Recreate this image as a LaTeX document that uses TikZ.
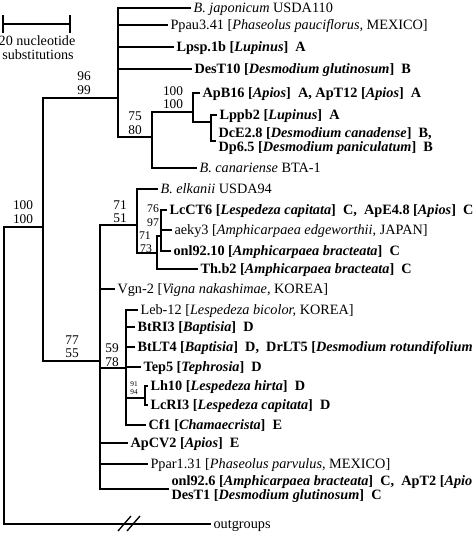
\documentclass[tikz,border=0pt]{standalone}
\usepackage{fontspec}
\setmainfont{Liberation Serif}
\begin{document}
\begin{tikzpicture}[x=0.75pt,y=-0.75pt,line width=1.3pt,line cap=rect,
  leaf/.style={anchor=west,inner xsep=2pt,inner ysep=0pt,text height=7pt,text depth=0pt,font=\fontsize{10.7}{12}\selectfont},
  leafb/.style={leaf,font=\fontsize{10.7}{12}\selectfont\bfseries},
  leaftwo/.style={anchor=west,inner xsep=2pt,inner ysep=0pt,align=left,font=\fontsize{10.7}{10.2}\selectfont\bfseries},
  supA/.style={inner sep=0pt,font=\fontsize{10}{10}\selectfont},
  supB/.style={inner sep=0pt,font=\fontsize{8.8}{9}\selectfont},
  supC/.style={inner sep=0pt,font=\fontsize{5.5}{5.5}\selectfont},
  scaletxt/.style={inner sep=0pt,font=\fontsize{10.6}{11}\selectfont}]
\useasboundingbox (0,0) rectangle (474,533);

% internal nodes
\coordinate (root) at (4,227);
\coordinate (n100) at (43,227);
\coordinate (n96) at (118,98);
\coordinate (n75) at (152,137);
\coordinate (n100b) at (193,112);
\coordinate (nLp) at (211,122);
\coordinate (n77) at (100,361);
\coordinate (n71) at (137,225);
\coordinate (n71b) at (157,253);
\coordinate (n76) at (161,236);
\coordinate (n59) at (126,368);
\coordinate (n91) at (145,398);

% leaves
\node[leaf] (jap) at (190,8) {\textit{B. japonicum} USDA110};
\node[leaf] (ppau) at (167,25) {Ppau3.41 [\textit{Phaseolus pauciflorus,} MEXICO]};
\node[leafb] (lpsp) at (173,47) {Lpsp.1b [\textit{Lupinus}]\ \ A};
\node[leafb] (dest10) at (191,69) {DesT10 [\textit{Desmodium glutinosum}]\ \ B};
\node[leafb] (apb16) at (199,93) {ApB16 [\textit{Apios}]\ \ A, ApT12 [\textit{Apios}]\ \ A};
\node[leafb] (lppb2) at (216,115) {Lppb2 [\textit{Lupinus}]\ \ A};
\node[leaftwo] (dce) at (215,141) {DcE2.8 [\textit{Desmodium canadense}]\ \ B,\\Dp6.5 [\textit{Desmodium paniculatum}]\ \ B};
\node[leaf] (canar) at (196,168) {\textit{B. canariense} BTA-1};
\node[leaf] (elk) at (157,189) {\textit{B. elkanii} USDA94};
\node[leafb] (lcct6) at (166,210) {LcCT6 [\textit{Lespedeza capitata}]\ \ C,\ \ ApE4.8 [\textit{Apios}]\ \ C};
\node[leaf] (aeky3) at (171,230) {aeky3 [\textit{Amphicarpaea edgeworthii}, JAPAN]};
\node[leafb] (onl9210) at (170,251) {onl92.10 [\textit{Amphicarpaea bracteata}]\ \ C};
\node[leafb] (thb2) at (197,269) {Th.b2 [\textit{Amphicarpaea bracteata}]\ \ C};
\node[leaf] (vgn2) at (114,289) {Vgn-2 [\textit{Vigna nakashimae,} KOREA]};
\node[leaf] (leb12) at (137,310) {Leb-12 [\textit{Lespedeza bicolor,} KOREA]};
\node[leafb] (btri3) at (134,327) {BtRI3 [\textit{Baptisia}]\ \ D};
\node[leafb] (btlt4) at (134,347) {BtLT4 [\textit{Baptisia}]\ \ D,\ \ DrLT5 [\textit{Desmodium rotundifolium}};
\node[leafb] (tep5) at (140,367) {Tep5 [\textit{Tephrosia}]\ \ D};
\node[leafb] (lh10) at (147,386) {Lh10 [\textit{Lespedeza hirta}]\ \ D};
\node[leafb] (lcri3) at (147,405) {LcRI3 [\textit{Lespedeza capitata}]\ \ D};
\node[leafb] (cf1) at (145,425) {Cf1 [\textit{Chamaecrista}]\ \ E};
\node[leafb] (apcv2) at (127,443) {ApCV2 [\textit{Apios}]\ \ E};
\node[leaf] (ppar) at (147,464) {Ppar1.31 [\textit{Phaseolus parvulus,} MEXICO]};
\node[leaftwo] (onl926) at (168,489) {onl92.6 [\textit{Amphicarpaea bracteata}]\ \ C,\ \ ApT2 [\textit{Apio}\\DesT1 [\textit{Desmodium glutinosum}]\ \ C};
\node[leaf] (outg) at (210,524) {outgroups};

% branches
\draw (root) -- (n100);
\draw (root) |- (outg.west);
\draw (n100) |- (n96);
\draw (n100) |- (n77);
\draw (n96) |- (jap.west);
\draw (n96) |- (ppau.west);
\draw (n96) |- (lpsp.west);
\draw (n96) |- (dest10.west);
\draw (n96) |- (n75);
\draw (n75) |- (n100b);
\draw (n75) |- (canar.west);
\draw (n100b) |- (apb16.west);
\draw (n100b) |- (nLp);
\draw (nLp) |- (lppb2.west);
\draw (nLp) |- (dce.west);
\draw (n77) |- (n71);
\draw (n77) |- (vgn2.west);
\draw (n77) |- (n59);
\draw (n77) |- (apcv2.west);
\draw (n77) |- (ppar.west);
\draw (n77) |- (onl926.west);
\draw (n71) |- (elk.west);
\draw (n71) |- (n71b);
\draw (n71b) |- (n76);
\draw (n71b) |- (thb2.west);
\draw (n76) |- (lcct6.west);
\draw (n76) |- (aeky3.west);
\draw (n76) |- (onl9210.west);
\draw (n59) |- (leb12.west);
\draw (n59) |- (btri3.west);
\draw (n59) |- (btlt4.west);
\draw (n59) |- (tep5.west);
\draw (n59) |- (n91);
\draw (n59) |- (cf1.west);
\draw (n91) |- (lh10.west);
\draw (n91) |- (lcri3.west);

% break marks on outgroup branch
\draw[line width=1pt,line cap=butt] (118,531) -- (131,516);
\draw[line width=1pt,line cap=butt] (127,531) -- (140,516);

% support values
\node[supA] (s1a) at (23,205) {100};
\node[supA] (s1b) at (23,219) {100};
\node[supA] (s2a) at (84,76) {96};
\node[supA] (s2b) at (84,90) {99};
\node[supA] (s3a) at (135,116) {75};
\node[supA] (s3b) at (135,130) {80};
\node[supA] (s4a) at (173,91) {100};
\node[supA] (s4b) at (173,104) {100};
\node[supA] (s5a) at (120,205) {71};
\node[supA] (s5b) at (120,218) {51};
\node[supB] (s6a) at (153,209) {76};
\node[supB] (s6b) at (153,223) {97};
\node[supB] (s7a) at (145,236) {71};
\node[supB] (s7b) at (146,249) {73};
\node[supA] (s8a) at (72,340) {77};
\node[supA] (s8b) at (72,353) {55};
\node[supA] (s9a) at (112,348) {59};
\node[supA] (s9b) at (112,362) {78};
\node[supC] (s10a) at (134,384) {91};
\node[supC] (s10b) at (134,392) {94};

% scale bar
\coordinate (sbl) at (3,24);
\coordinate (sbr) at (70,24);
\draw (sbl) -- (sbr);
\draw ([yshift=6]sbl) -- ([yshift=-6]sbl);
\draw ([yshift=6]sbr) -- ([yshift=-6]sbr);
\node[scaletxt] (sbt1) at (37,41) {20 nucleotide};
\node[scaletxt] (sbt2) at (38,55) {substitutions};
\end{tikzpicture}
\end{document}
